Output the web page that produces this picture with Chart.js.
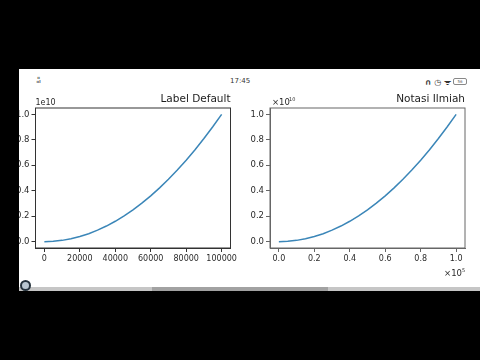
<!DOCTYPE html>
<html>
<head>
<meta charset="utf-8">
<script src="https://cdn.jsdelivr.net/npm/chart.js@4"></script>
<style>
  html, body { margin: 0; background: #000; }
  #stage { position: relative; width: 480px; height: 360px; overflow: hidden; background: #000; font-family: "DejaVu Sans", sans-serif; }
  #sheet { position: absolute; left: 19px; top: 69px; width: 461px; height: 218px; background: #fff; }
  #bar { position: absolute; left: 19px; top: 287px; width: 461px; height: 4px; background: #c6c6c6; }
  #thumb { position: absolute; left: 152px; top: 287px; width: 176px; height: 4px; background: #a2a2a2; }
  #left, #right { position: absolute; top: 69px; height: 218px; }
  #left { left: 19px; width: 221px; }
  #right { left: 240px; width: 240px; }
  #clock { position: absolute; left: 230px; top: 77px; font-size: 7px; color: #333; }
  #signal { position: absolute; left: 34px; top: 76px; font-size: 4px; line-height: 4px; font-weight: bold; color: #444; text-align: center; width: 9px; }
  #icons { position: absolute; left: 425px; top: 76px; font-size: 8px; font-weight: bold; color: #333; white-space: nowrap; }
  #batt { position: absolute; left: 453px; top: 78px; width: 12px; height: 5px; border: 1px solid #888; border-radius: 2px; font-size: 4px; line-height: 5px; text-align: center; color: #666; }
  #dot { position: absolute; left: 20px; top: 280px; width: 7px; height: 7px; border: 2px solid #25323c; border-radius: 50%; background: #b9c6d0; }
</style>
</head>
<body>
<div id="stage">
  <div id="sheet"></div>
  <div id="bar"></div>
  <div id="thumb"></div>
  <div id="signal">ıı<br>ııl</div>
  <div id="clock">17:45</div>
  <div id="icons">∩ ◷ ᯤ</div>
  <div id="batt">56</div>
  <div id="left"><canvas id="chartDefault"></canvas></div>
  <div id="right"><canvas id="chartIlmiah"></canvas></div>
  <div id="dot"></div>
</div>
<script>
const xValues = [0, 5000, 10000, 15000, 20000, 25000, 30000, 35000, 40000, 45000, 50000,
  55000, 60000, 65000, 70000, 75000, 80000, 85000, 90000, 95000, 100000];
// y in units of 1e10
const yValues = [0, 0.0025, 0.01, 0.0225, 0.04, 0.0625, 0.09, 0.1225, 0.16, 0.2025, 0.25,
  0.3025, 0.36, 0.4225, 0.49, 0.5625, 0.64, 0.7225, 0.81, 0.9025, 1.0];
const xTicks = [0, 20000, 40000, 60000, 80000, 100000];
const yTicks = [0, 0.2, 0.4, 0.6, 0.8, 1.0];

const FONT = '"DejaVu Sans", sans-serif';
const INK = '#2a2a2a';

// black frame round the plot area plus the offset text of each axis
const framePlugin = {
  id: 'frame',
  afterDraw(chart, args, opts) {
    const { ctx, chartArea: a } = chart;
    ctx.save();
    ctx.strokeStyle = opts.color;
    ctx.lineWidth = 1;
    ctx.strokeRect(a.left, a.top, a.right - a.left, a.bottom - a.top);
    ctx.fillStyle = INK;
    ctx.textBaseline = 'alphabetic';
    if (opts.sci) {
      ctx.textAlign = 'left';
      ctx.font = '8.5px ' + FONT;
      ctx.fillText('×10', a.left + 2, a.top - 3);
      ctx.font = '5px ' + FONT;
      ctx.fillText('10', a.left + 19, a.top - 7);
      ctx.textAlign = 'right';
      ctx.font = '8.5px ' + FONT;
      ctx.fillText('×10', a.right - 3, a.bottom + 28);
      ctx.textAlign = 'left';
      ctx.font = '5px ' + FONT;
      ctx.fillText('5', a.right - 3, a.bottom + 24);
    } else {
      ctx.textAlign = 'left';
      ctx.font = '8px ' + FONT;
      ctx.fillText('1e10', a.left, a.top - 3);
    }
    ctx.restore();
  }
};

function makeChart(id, title, yWidth, padRight, xLabel, frameColor, sci) {
  return new Chart(document.getElementById(id), {
    type: 'line',
    data: {
      labels: xValues,
      datasets: [{
        data: xValues.map((x, i) => ({ x: x, y: yValues[i] })),
        borderColor: '#3b86b8',
        borderWidth: 1.5,
        pointRadius: 0,
        tension: 0
      }]
    },
    options: {
      responsive: false,
      animation: false,
      layout: { padding: { top: 24, right: padRight, left: 0, bottom: 0 } },
      plugins: {
        legend: { display: false },
        tooltip: { enabled: false },
        title: {
          display: true,
          text: title,
          align: 'end',
          color: '#1c1c1c',
          font: { family: FONT, size: 10.5, weight: 'normal' },
          padding: { top: 0, bottom: 2.4 }
        },
        frame: { color: frameColor, sci: sci }
      },
      scales: {
        x: {
          type: 'linear',
          min: -5000,
          max: 105000,
          afterBuildTicks: s => { s.ticks = xTicks.map(v => ({ value: v })); },
          afterFit: s => { s.height = 39; },
          grid: { display: true, drawOnChartArea: false, tickLength: 4, color: frameColor },
          border: { color: frameColor },
          ticks: {
            color: INK,
            maxRotation: 0,
            autoSkip: false,
            padding: 2,
            font: { family: FONT, size: 8 },
            callback: xLabel
          }
        },
        y: {
          min: -0.05,
          max: 1.05,
          afterBuildTicks: s => { s.ticks = yTicks.map(v => ({ value: v })); },
          afterFit: s => { s.width = yWidth; },
          grid: { display: true, drawOnChartArea: false, tickLength: 4, color: frameColor },
          border: { color: frameColor },
          ticks: {
            color: INK,
            autoSkip: false,
            padding: 2,
            font: { family: FONT, size: 8.5 },
            callback: v => v.toFixed(1)
          }
        }
      }
    },
    plugins: [framePlugin]
  });
}

function sizeCanvas(id) {
  const c = document.getElementById(id);
  c.width = c.parentNode.clientWidth;
  c.height = c.parentNode.clientHeight;
}
sizeCanvas('chartDefault');
sizeCanvas('chartIlmiah');

makeChart('chartDefault', 'Label Default', 16.5, 9.5, v => String(v), '#333333', false);
makeChart('chartIlmiah', 'Notasi Ilmiah', 30, 15, v => (v / 100000).toFixed(1), '#666666', true);
</script>
</body>
</html>
